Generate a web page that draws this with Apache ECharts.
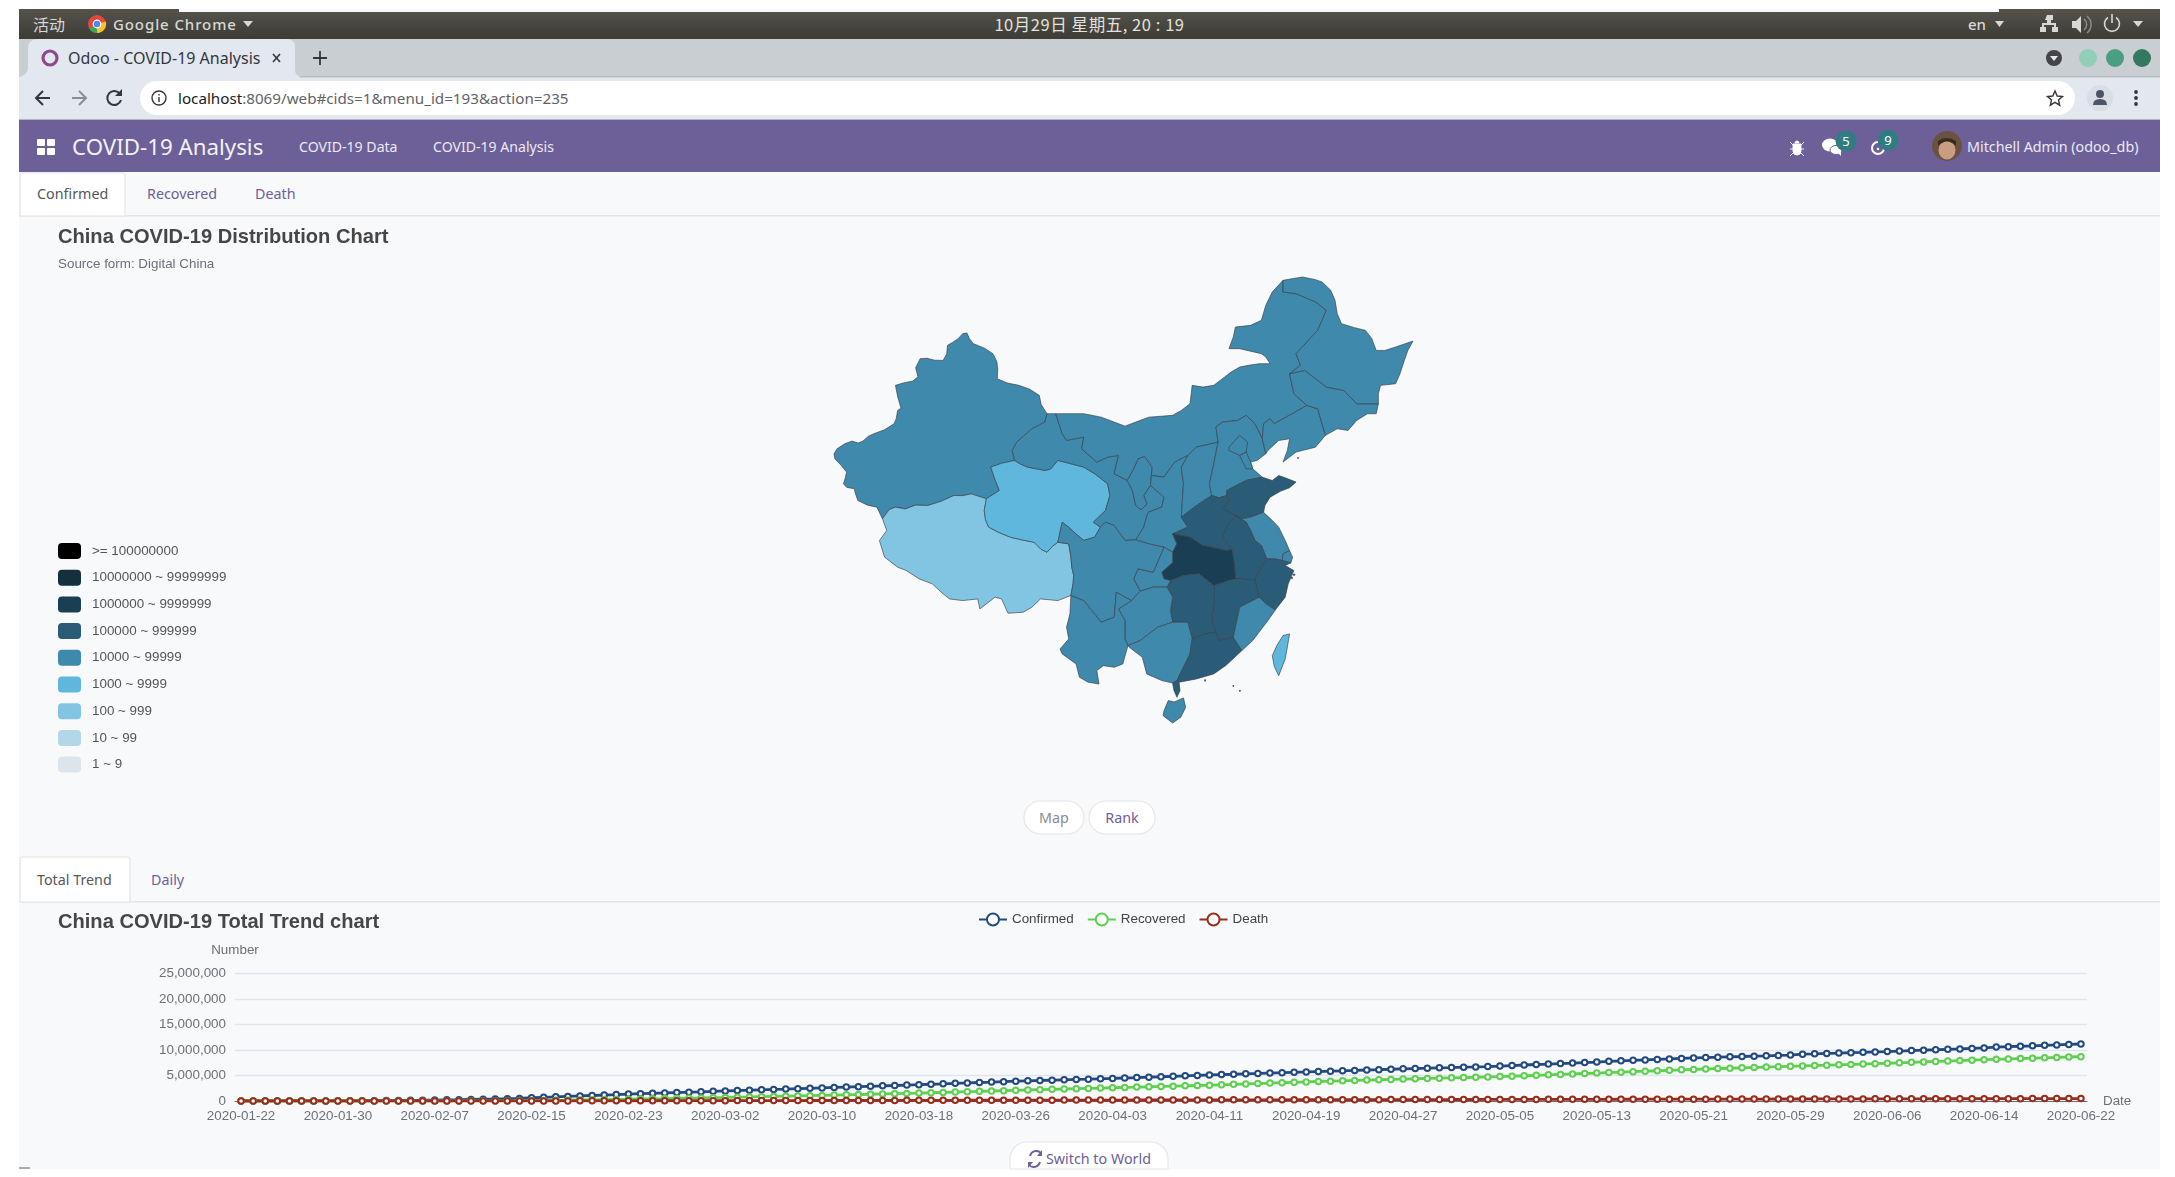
<!DOCTYPE html>
<html>
<head>
<meta charset="utf-8">
<title>COVID-19 Analysis</title>
<script src="https://cdn.jsdelivr.net/npm/echarts@6/dist/echarts.min.js"></script>
<style>
html, body { margin: 0; padding: 0; background: #fff; overflow: hidden; }
#shell { position: absolute; left: 0; top: 0; }
#chart { position: absolute; left: 0; top: 0; width: 2175px; height: 1177px; }
text { font-family: "Noto Sans", sans-serif; dominant-baseline: central; }
</style>
</head>
<body>
<svg id="shell" width="2175" height="1177" xmlns="http://www.w3.org/2000/svg">
  <defs>
    <linearGradient id="topbar" x1="0" y1="0" x2="0" y2="1">
      <stop offset="0" stop-color="#55534c"/><stop offset="1" stop-color="#3c3b36"/>
    </linearGradient>
  </defs>
  <rect x="19" y="9" width="2141" height="1160" fill="#f8f9fb"/>

  <!-- desktop bar -->
  <path d="M19 9H179V12H1999V9H2160V39H19Z" fill="url(#topbar)"/>
  <text x="33" y="24" font-size="16" fill="#d8d8d4" style="font-family:'Noto Sans CJK SC'">活动</text>
  <circle cx="97" cy="24" r="9" fill="#e8453c"/>
  <path d="M97 24L89.2 28.5A9 9 0 0 0 97 33Z" fill="#3aa757"/>
  <path d="M97 24L97 33A9 9 0 0 0 105.8 21.5Z" fill="#fbc02d"/>
  <circle cx="97" cy="24" r="4.4" fill="#fff"/><circle cx="97" cy="24" r="3.2" fill="#4a8af0"/>
  <text x="113" y="24" font-size="15" font-weight="500" letter-spacing=".9" fill="#d8d8d4">Google Chrome</text>
  <path d="M243 21h10l-5 6Z" fill="#d8d8d4"/>
  <text x="1089.500" y="24" font-size="16.500" letter-spacing=".55" text-anchor="middle" fill="#e2e2de" style="font-family:'Noto Sans CJK SC'">10月29日 星期五, 20 : 19</text>
  <text x="1968" y="24" font-size="15" font-weight="500" fill="#d8d8d4">en</text>
  <path d="M1995 21h9l-4.500 6Z" fill="#d8d8d4"/>
  <path d="M2047 15h6v5h-2v3h5v4h2v5h-6v-5h2v-2h-10v2h2v5h-6v-5h2v-4h5v-3h-2z" fill="#d8d8d4"/>
  <path d="M2072 21h4l5-5v17l-5-5h-4Z" fill="#d8d8d4"/>
  <path d="M2084 19a7 7 0 0 1 0 11M2087 16a11 11 0 0 1 0 17" fill="none" stroke="#8e8e88" stroke-width="1.500"/>
  <path d="M2116 17.500a7.500 7.500 0 1 1-8 0" fill="none" stroke="#d8d8d4" stroke-width="1.600"/>
  <path d="M2112 14v9" stroke="#d8d8d4" stroke-width="1.600"/>
  <path d="M2133 21h10l-5 6Z" fill="#d8d8d4"/>

  <!-- browser tab strip -->
  <rect x="19" y="39" width="2141" height="38" fill="#c9ced2"/>
  <path d="M19 77H300Q295 75 295 70V47Q295 39 286 39H38Q28 39 28 49V68Q28 75 19 77Z" fill="#e3e8f0"/>
  <circle cx="50" cy="58" r="7" fill="none" stroke="#8e4a86" stroke-width="3.200"/>
  <text x="68" y="57.500" font-size="16" fill="#33363a">Odoo - COVID-19 Analysis</text>
  <path d="M273 54l7 8M280 54l-7 8" stroke="#33363a" stroke-width="1.600"/>
  <path d="M320 51v14M313 58h14" stroke="#33363a" stroke-width="1.800"/>
  <circle cx="2054" cy="58" r="8" fill="#45444a"/><path d="M2050 56h8l-4 5Z" fill="#e3e8f0"/>
  <circle cx="2088" cy="58" r="9" fill="#92cdb8"/>
  <circle cx="2115" cy="58" r="9" fill="#4a9e82"/>
  <circle cx="2142" cy="58" r="9" fill="#33785f"/>

  <!-- toolbar -->
  <rect x="19" y="77" width="2141" height="42" fill="#e3e8f0"/>
  <rect x="300" y="76" width="1860" height="1.500" fill="#b9bdc2"/>
  <rect x="140" y="81" width="1935" height="34" rx="17" fill="#fff"/>
  <rect x="19" y="119" width="2141" height="1.500" fill="#b3b7bc"/>
  <path d="M50 98H37M43 91l-7 7 7 7" fill="none" stroke="#33363a" stroke-width="2"/>
  <path d="M72 98h13M79 91l7 7-7 7" fill="none" stroke="#8a8d91" stroke-width="2"/>
  <path d="M120 94a7 7 0 1 0 1 6" fill="none" stroke="#33363a" stroke-width="2"/><path d="M122 89v7h-7Z" fill="#33363a"/>
  <circle cx="159" cy="98" r="7" fill="none" stroke="#33363a" stroke-width="1.400"/>
  <path d="M159 97v5M159 94v1.500" stroke="#33363a" stroke-width="1.400"/>
  <text x="178" y="97.500" font-size="15.200" fill="#202124">localhost<tspan fill="#5f6368">:8069/web#cids=1&amp;menu_id=193&amp;action=235</tspan></text>
  <path d="M2055 91l2.200 5 5.300.5-4 3.500 1.200 5.200-4.700-2.800-4.700 2.800 1.200-5.200-4-3.500 5.300-.5Z" fill="none" stroke="#33363a" stroke-width="1.400"/>
  <circle cx="2100" cy="98" r="13" fill="#d9dde4"/>
  <circle cx="2100" cy="94" r="4" fill="#4a5568"/><path d="M2093 105q0-6 7-6t7 6Z" fill="#4a5568"/>
  <circle cx="2136" cy="92" r="1.900" fill="#33363a"/><circle cx="2136" cy="98" r="1.900" fill="#33363a"/><circle cx="2136" cy="104" r="1.900" fill="#33363a"/>

  <!-- odoo navbar -->
  <rect x="19" y="120" width="2141" height="52" fill="#6d6098"/>
  <rect x="37" y="139" width="8" height="7" rx="1" fill="#fff"/><rect x="47" y="139" width="8" height="7" rx="1" fill="#fff"/>
  <rect x="37" y="148" width="8" height="7" rx="1" fill="#fff"/><rect x="47" y="148" width="8" height="7" rx="1" fill="#fff"/>
  <text x="72" y="146" font-size="22.300" fill="#f3f1f7">COVID-19 Analysis</text>
  <text x="299" y="146" font-size="14.100" fill="#ece9f3">COVID-19 Data</text>
  <text x="433" y="146" font-size="14.100" fill="#ece9f3">COVID-19 Analysis</text>
  <path d="M1793 144h8v7q0 4-4 4t-4-4ZM1795 143a2 2 0 0 1 4 0ZM1790 142l3 3M1804 142l-3 3M1790 149h3M1804 149h-3M1790 156l3-3M1804 156l-3-3" fill="#fff" stroke="#fff" stroke-width=".9"/>
  <ellipse cx="1830" cy="145" rx="8" ry="6.500" fill="#fff"/><ellipse cx="1836" cy="150" rx="6" ry="4.500" fill="#fff" stroke="#6d6098"/><path d="M1838 153l3 3v-4Z" fill="#fff"/>
  <circle cx="1846" cy="141" r="10.500" fill="#2f7d82"/><text x="1846" y="140.500" font-size="13" text-anchor="middle" fill="#fff">5</text>
  <circle cx="1878" cy="148" r="6" fill="none" stroke="#fff" stroke-width="2"/><circle cx="1878" cy="149" r="1.200" fill="#fff"/>
  <circle cx="1888" cy="140" r="10.500" fill="#2f7d82"/><text x="1888" y="139.500" font-size="13" text-anchor="middle" fill="#fff">9</text>
  <ellipse cx="1947" cy="146" rx="15" ry="15" fill="#6b5240"/><ellipse cx="1947" cy="150" rx="8.500" ry="9.500" fill="#c79f80"/><path d="M1938 146q9-9 18 0v-5q-9-6-18 0Z" fill="#3a2a22"/>
  <text x="1967" y="146" font-size="14.300" fill="#ece9f3">Mitchell Admin (odoo_db)</text>

  <!-- first tab row -->
  <rect x="19" y="215" width="2141" height="1.500" fill="#e2e5ea"/>
  <path d="M20 216V176q0-3 3-3H122q3 0 3 3V216Z" fill="#fff" stroke="#e2e5ea" stroke-width="1.200"/>
  <text x="37" y="193" font-size="14.300" fill="#55575a">Confirmed</text>
  <text x="147" y="193" font-size="14.300" fill="#6d6098">Recovered</text>
  <text x="255" y="193" font-size="14.300" fill="#6d6098">Death</text>

  <!-- map / rank buttons -->
  <rect x="1024" y="801" width="60" height="33" rx="16.500" fill="#fff" stroke="#e4e6ea" stroke-width="1.200"/>
  <rect x="1089" y="801" width="66" height="33" rx="16.500" fill="#fff" stroke="#e4e6ea" stroke-width="1.200"/>
  <text x="1054" y="817.500" font-size="14.300" text-anchor="middle" fill="#8a8c90">Map</text>
  <text x="1122" y="817.500" font-size="14.300" text-anchor="middle" fill="#6d6098">Rank</text>

  <!-- second tab row -->
  <rect x="19" y="901" width="2141" height="1.500" fill="#e2e5ea"/>
  <path d="M20 902V860q0-3 3-3H127q3 0 3 3V902Z" fill="#fff" stroke="#e2e5ea" stroke-width="1.200"/>
  <text x="37" y="879" font-size="14.300" fill="#55575a">Total Trend</text>
  <text x="151" y="879" font-size="14.300" fill="#6d6098">Daily</text>

  <!-- switch button, cut by the bottom of the shot -->
  <path d="M1010 1169V1159a17 17 0 0 1 17-17H1151a17 17 0 0 1 17 17V1169Z" fill="#fff" stroke="#e4e6ea" stroke-width="1.200"/>
  <path d="M1041 1153a6.500 6.500 0 0 0-11 3M1029 1165a6.500 6.500 0 0 0 11-3" fill="none" stroke="#6d6098" stroke-width="1.800"/>
  <path d="M1042 1150v6h-5ZM1028 1168v-6h5Z" fill="#6d6098"/>
  <text x="1046" y="1158.500" font-size="14.300" fill="#6d6098">Switch to World</text>
  <rect x="19" y="1167" width="11" height="2" fill="#a9abae"/>
</svg>
<div id="chart"></div>

<script>
// province values for the map
let provinceNames = ['Xinjiang','Tibet','Qinghai','Gansu','Ningxia','Inner Mongolia','Shaanxi','Shanxi','Hebei','Liaoning','Jilin','Heilongjiang','Shandong','Henan','Jiangsu','Anhui','Shanghai','Zhejiang','Hubei','Jiangxi','Hunan','Chongqing','Sichuan','Guizhou','Yunnan','Guangxi','Guangdong','Fujian','Beijing','Tianjin','Taiwan','Hainan']
let provinceValues = [18000,400,3500,24000,15000,35000,62000,45000,81000,40000,28000,55000,148000,325000,86000,290000,35000,310000,5800000,240000,265000,75000,92000,30000,36000,66000,380000,64000,52000,32000,9000,28000]

// legend of the map
let pieceLabels = ['1 ~ 9','10 ~ 99','100 ~ 999','1000 ~ 9999','10000 ~ 99999','100000 ~ 999999','1000000 ~ 9999999','10000000 ~ 99999999','>= 100000000']
let pieceMins = [1,10,100,1000,10000,100000,1000000,10000000,100000000]
let pieceColors = ['#dce5ec','#b3d7e9','#82c5e3','#5fb7de','#3f89ad','#2a5c78','#1a3f54','#142f3e','#000000']

// trend chart, values in thousands
let confirmedK = [
    1,1,2,3,5,8,12,18,26,36,48,62,80,100,124,152,185,
    222,262,306,352,402,454,510,640,
    725,812,900,988,1082,1170,1258,1350,
    1432,1506,1578,1656,1731,1808,1892,1970,
    2046,2118,2196,2271,2344,2422,2494,2570,
    2652,2728,2806,2884,2966,3038,3122,3200,
    3286,3368,3456,3538,3626,3708,3796,3880,
    3952,4018,4092,4158,4226,4288,4356,4420,
    4506,4588,4676,4758,4846,4928,5016,5100,
    5176,5248,5326,5398,5476,5548,5626,5700,
    5776,5848,5926,5998,6076,6148,6226,6300,
    6366,6428,6496,6558,6626,6688,6756,6840,
    6956,7058,7156,7248,7346,7438,7536,7630,
    7776,7868,7966,8058,8156,8248,8352,8450,
    8522,8588,8662,8728,8796,8858,8932,9000,
    9176,9248,9326,9398,9476,9548,9626,9700,
    9792,9878,9966,10048,10136,10218,10312,10400,
    10566,10648,10736,10818,10912,10998,11092,11180
]
let recoveredK = [
    0,0,0,0,0,0,0,1,1,2,3,4,6,8,10,13,16,
    20,24,29,34,39,45,52,60,
    92,128,162,198,236,274,312,350,
    392,436,478,522,566,610,656,700,
    750,798,850,900,950,1000,1050,1100,
    1155,1212,1268,1325,1380,1436,1494,1550,
    1618,1686,1755,1825,1892,1962,2030,2100,
    2162,2225,2288,2350,2412,2475,2538,2600,
    2660,2722,2785,2850,2912,2975,3038,3100,
    3180,3262,3342,3425,3505,3588,3668,3750,
    3820,3888,3958,4025,4095,4162,4232,4300,
    4360,4420,4480,4540,4600,4660,4720,4780,
    4868,4955,5042,5130,5218,5305,5392,5480,
    5570,5660,5750,5840,5930,6020,6110,6200,
    6275,6350,6425,6500,6575,6650,6725,6800,
    6875,6950,7025,7100,7175,7250,7325,7400,
    7488,7575,7662,7750,7838,7925,8012,8100,
    8175,8250,8325,8400,8475,8550,8625,8700
]
let deathK = [
    0,0,0,0,0,0,0,0,0,1,1,1,2,2,2,3,3,
    4,4,5,6,7,8,9,12,
    15,19,23,26,30,34,37,41,
    45,48,52,56,59,63,67,70,
    74,78,81,85,89,92,96,100,
    103,107,111,114,118,122,125,129,
    133,136,140,144,147,151,155,158,
    162,166,169,173,177,180,184,188,
    191,195,199,202,206,210,213,217,
    221,224,228,232,235,239,243,246,
    250,254,257,261,265,268,272,276,
    279,283,287,290,294,298,301,305,
    309,312,316,320,323,327,331,334,
    338,342,345,349,353,356,360,364,
    367,371,375,378,382,386,389,393,
    397,400,404,408,411,415,419,422,
    426,430,433,437,441,444,448,452,
    455,459,463,466,470,474,477,480
]
let trendNames = ['Confirmed','Recovered','Death']
let trendColors = ['#234a80','#5ed04f','#9a2c1c']

let trendDates = []
for (let t = Date.UTC(2020, 0, 22); t <= Date.UTC(2020, 5, 22); t += 86400000) {
    trendDates.push(new Date(t).toISOString().slice(0, 10))
}

// province borders in lon/lat, shared so that neighbours meet
let borders = {
    xjNorth: [[78.78,34.47],[78.19,35.39],[77.2,35.55],[76.17,35.92],[75.9,36.5],[75.8,36.84],[75,36.95],[74.65,37.24],[74.85,37.7],[74.98,38.16],[74.4,38.7],[73.74,39.21],[73.65,39.6],[73.97,40],[74.8,40.4],[75.57,40.61],[76.2,40.45],[76.72,40.61],[77.3,41],[77.87,41.19],[79,41.5],[80.02,41.98],[80.25,42.4],[80.39,43.03],[80.75,43.2],[80.4,44.1],[80.16,45.01],[81,45.2],[82,45.35],[82.55,45.7],[82.3,46.4],[82.78,47.12],[83.5,47.15],[84.3,47],[85.21,46.98],[85.6,47.5],[85.67,48.17],[86.2,48.4],[86.81,48.7],[87.3,49.1],[87.73,49.15],[88,48.7],[88.42,48.3],[89.6,47.95],[90.49,47.51],[90.9,46.9],[91,46.3],[90.95,45.54],[92,45.2],[93.24,45.01],[94.4,44.7],[95.4,44.22],[95.6,43.5],[96.22,42.77]],
    xjXz: [[78.78,34.47],[79.5,35.2],[80.16,35.39],[81.2,35.25],[82.3,35.55],[83.6,35.52],[85,35.85],[86.36,36.31],[87.3,36.3],[88.19,36.44],[89.8,36.05]],
    xjQh: [[89.8,36.05],[91.17,36.71],[90.7,37.6],[90.26,38.55],[91.4,38.85],[92.78,39.08]],
    xzQh: [[89.8,36.05],[89.57,35.13],[89.7,34.4],[90.03,33.81],[91.1,33.4],[92.32,33.02],[93.6,32.8],[94.85,32.62],[95.6,32.05],[96.22,31.83],[96.8,32.3],[97.37,32.62]],
    xzSc: [[97.37,32.62],[98.52,32.49],[98.75,31.5],[98.84,30.65],[99.05,30],[98.98,29.33],[98.75,28.41]],
    xzSouth: [[98.75,28.41],[97.37,28.01],[95.53,28.14],[94.62,27.49],[93.7,27.09],[92.09,27.01],[91.4,28.14],[90.72,28.28],[89.11,27.35],[88.88,28.14],[87.27,28.01],[85.9,28.14],[85.21,28.54],[84.06,29.33],[82.68,29.72],[81.31,30.38],[80.39,30.65],[79.01,31.44],[78.46,32.75],[79.24,33.55],[78.78,34.47]],
    qhSc: [[97.37,32.62],[97.83,34.2],[98.52,33.81],[99.4,33.2],[100.12,32.76],[101.27,33.02],[101.87,33.81]],
    gsQh: [[101.87,33.81],[101.13,34.2],[102.42,35.13],[102.88,36.31],[102.65,37.24],[101.27,38.03],[100.12,38.55],[98.75,38.82],[97.37,39.08],[96.6,38.4],[95.99,38.29],[94.16,38.55],[93.4,38.8],[92.78,39.08]],
    xjGs: [[92.78,39.08],[92.55,39.87],[93.01,40.53],[94.62,41.58],[95.99,42.11],[96.22,42.77]],
    gsNorth: [[96.22,42.77],[97.14,42.77]],
    gsIm: [[97.14,42.77],[97.83,41.19],[98.29,40.66],[100.12,40.92],[99.89,40],[101.5,38.95],[102.65,39.34],[103.79,39.47],[103.34,38.03],[104.71,37.5]],
    nxGs: [[104.71,37.5],[105.26,36.71],[105.63,35.52],[106.18,35.18],[106.82,35.65],[106.46,36.31],[106.92,36.84],[107.19,37.1]],
    nxSn: [[107.19,37.1],[107.28,37.89]],
    nxIm: [[107.28,37.89],[107.37,38.55],[106.55,39.4],[105.86,39.21],[105.4,38.42],[104.71,37.5]],
    gsSn: [[107.19,37.1],[108.61,36.18],[108.38,35.39],[106.92,34.98],[106.46,33.81],[105.63,32.81]],
    gsSc: [[105.63,32.81],[104.48,32.76],[103.34,33.94],[102.42,34.2],[101.87,33.81]],
    scSn: [[105.63,32.81],[107.01,32.49],[108.61,32.23]],
    snCq: [[108.61,32.23],[109.53,31.83]],
    snHb: [[109.53,31.83],[109.99,32.49],[109.53,33.28]],
    snHa: [[109.53,33.28],[111.14,33.81],[110.45,34.6]],
    snSx: [[110.45,34.6],[110.68,37.24],[110.45,38.55],[111.14,39.47]],
    snIm: [[107.28,37.89],[108.61,37.76],[109.76,38.95],[111.14,39.47]],
    sxHa: [[110.45,34.6],[111.82,35.39],[113.66,36.31]],
    sxHe: [[113.66,36.31],[113.43,37.24],[113.89,38.82],[114.35,40.53]],
    sxIm: [[111.14,39.47],[112.05,40.13],[114.35,40.53]],
    heIm: [[114.35,40.53],[114.12,41.71],[114.81,42.11],[116.41,42.24],[117.33,42.64],[118.25,41.98],[119.03,40.79]],
    heLn: [[119.03,40.79],[119.4,39.6]],
    heCoast: [[119.4,39.6],[118.48,39.08],[117.79,38.95],[118.02,38.42],[119.03,37.76]],
    sdHe: [[119.03,37.76],[117.33,37.5],[115.27,36.71],[115.27,36.31]],
    heHa: [[113.66,36.31],[114.44,36.13],[115.27,36.31]],
    sdHa: [[115.27,36.31],[115.5,35.92],[114.9,35.26],[116.18,34.73]],
    sdOuter: [[119.03,37.76],[120.09,37.5],[120.77,37.89],[121.46,37.71],[122.61,37.37],[121.92,36.92],[121,36.66],[119.86,36.18],[119.31,35.52],[119.17,34.98]],
    sdJs: [[119.17,34.98],[117.79,34.6],[116.87,34.47],[116.18,34.73]],
    jsAh: [[116.18,34.73],[117.33,34.2],[117.79,33.55],[118.25,32.76],[118.94,32.36],[119.49,31.31]],
    jsOuter: [[119.17,34.98],[120.09,34.34],[120.77,33.81],[121.46,32.76],[121.92,31.96]],
    jsSh: [[121.92,31.96],[121.23,31.7],[121.14,31.17]],
    shOuter: [[121.92,31.96],[122.24,31.44],[122.06,30.99]],
    shZj: [[121.14,31.17],[122.06,30.99]],
    jsZj: [[121.14,31.17],[120.31,31.31],[119.49,31.31]],
    ahZj: [[119.49,31.31],[118.94,30.65],[118.25,29.65]],
    zjOuter: [[122.06,30.99],[121.46,30.78],[122.38,30.38],[121.78,29.33],[121.46,28.28],[120.41,27.27]],
    zjFj: [[120.41,27.27],[119.4,27.75],[118.71,28.28]],
    zjJx: [[118.25,29.65],[118.39,29.07],[118.71,28.28]],
    hbHa: [[109.53,33.28],[111.37,33.02],[112.74,32.36],[115.27,31.96],[115.82,32.04]],
    haAh: [[116.18,34.73],[115.27,33.81],[114.81,33.02],[115.82,32.04]],
    hbAh: [[115.82,32.04],[116.09,30.78],[116.18,29.72]],
    ahJx: [[116.18,29.72],[118.25,29.65]],
    hbJx: [[116.18,29.72],[115.5,29.59],[113.89,29.2]],
    hbHn: [[113.89,29.2],[112.28,30.12],[110.68,29.99],[109.3,29.59]],
    hnCq: [[109.3,29.59],[108.93,29.07]],
    cqGz: [[108.93,29.07],[107.47,29.07],[106.09,28.75]],
    scCq: [[108.61,32.23],[107.47,30.25],[105.86,30.52],[105.4,29.72],[106.09,28.75]],
    hbCq: [[109.53,31.83],[109.53,31.04],[108.38,30.25],[108.61,29.72],[109.3,29.59]],
    scGz: [[106.09,28.75],[105.17,28.01]],
    scYn: [[105.17,28.01],[103.56,28.67],[103.34,26.7],[101.96,26.3],[100.12,28.01],[98.75,28.41]],
    ynGz: [[105.17,28.01],[103.79,27.35],[104.48,26.43],[104.48,24.98],[104.8,24.46]],
    gzGx: [[104.8,24.46],[106.09,24.85],[107.92,25.9],[109.53,26.3]],
    gzHn: [[108.93,29.07],[109.53,28.28],[109.3,27.22],[109.53,26.3]],
    hnGx: [[109.53,26.3],[111.14,26.3],[111.6,24.98]],
    hnGd: [[111.6,24.98],[112.97,25.38],[114.12,25.51]],
    hnJx: [[113.89,29.2],[113.89,27.75],[113.66,26.43],[114.12,25.51]],
    jxGd: [[114.12,25.51],[114.44,24.85],[115.96,25.11]],
    jxFj: [[118.71,28.28],[116.64,27.49],[115.96,25.11]],
    fjGd: [[115.96,25.11],[116.87,24.06]],
    fjOuter: [[120.41,27.27],[119.63,26.43],[118.02,24.85],[116.87,24.06]],
    gdGx: [[111.6,24.98],[111.37,23.8],[109.99,21.69],[109.53,21.5]],
    gdOuter: [[116.87,24.06],[115.2,22.9],[113.89,22.22],[112.05,21.82],[110.22,21.56],[110.31,20.9],[109.99,20.37],[109.67,20.9],[109.53,21.5]],
    gxOuter: [[109.53,21.5],[108.38,21.69],[106.78,22.22],[106.32,23.53],[104.94,24.32],[104.8,24.46]],
    ynOuter: [[104.8,24.46],[104.25,23],[103.34,22.74],[102.19,22.87],[101.5,22.48],[101.73,21.42],[100.58,21.56],[99.66,21.95],[99.3,23],[97.83,23.8],[97.6,24.19],[98.52,24.98],[98.29,25.9],[98.65,26.96],[98.75,28.41]],
    imNorth: [[97.14,42.77],[100.12,42.77],[101.96,42.5],[103.34,42.11],[104.48,41.79],[105.63,42.11],[107.01,42.5],[109.53,42.64],[110.45,43.03],[111.37,43.56],[111.5,44.35],[111.6,45.01],[112.74,44.88],[113.89,45.01],[114.81,45.54],[115.73,46.06],[116.64,46.46],[117.56,46.59],[118.71,46.72],[119.86,46.72],[119.4,47.25],[118.94,47.51],[116.64,47.91],[115.5,47.91],[115.96,48.83],[116.18,49.62],[117.79,49.75],[118.94,50.15],[119.4,51.33],[120.09,52.39],[121.23,53.31]],
    imHlj: [[121.23,53.31],[121.23,52.39],[122.61,52.25],[124.67,51.6],[125.82,50.94],[124.9,49.36],[122.61,47.51],[123.07,46.59],[121.92,45.93]],
    hljOuter: [[121.23,53.31],[123.3,53.57],[124.67,53.36],[125.36,53.18],[126.28,52.52],[126.74,51.73],[126.97,50.67],[127.43,49.88],[128.8,49.57],[129.95,49.36],[130.64,48.7],[131.1,47.77],[132.02,47.77],[133.16,48.04],[135,48.51],[134.45,47.77],[134.08,46.98],[133.62,45.93],[133.16,45.14],[131.56,45.01],[131.33,44.35],[131.33,43.56]],
    hljJl: [[121.92,45.93],[123.53,46.19],[125.82,44.88],[127.66,44.61],[129.03,43.56],[131.33,43.56]],
    imJl: [[121.92,45.93],[122.38,44.35],[123.76,43.43]],
    imLn: [[123.76,43.43],[120.31,41.98],[119.86,42.37],[119.17,41.98],[119.03,40.79]],
    jlLn: [[123.76,43.43],[124.9,43.16],[125.73,41.06]],
    jlOuter: [[131.33,43.56],[131.1,42.77],[130.18,42.77],[129.03,42.24],[128.12,41.45],[126.97,41.58],[125.73,41.06]],
    lnOuter: [[125.73,41.06],[124.67,40.13],[122.61,39.74],[121.23,38.95],[121.69,39.87],[121.92,40.79],[120.77,40.66],[119.63,39.87],[119.4,39.6]]
}

let provinceRings = {
    'Xinjiang': ['xjNorth','-xjGs','-xjQh','-xjXz'],
    'Tibet': ['xjXz','xzQh','xzSc','xzSouth'],
    'Qinghai': ['xjQh','-gsQh','-qhSc','-xzQh'],
    'Gansu': ['xjGs','gsNorth','gsIm','nxGs','gsSn','gsSc','gsQh'],
    'Ningxia': ['nxGs','nxSn','nxIm'],
    'Inner Mongolia': ['imNorth','imHlj','imJl','imLn','-heIm','-sxIm','-snIm','nxIm','-gsIm'],
    'Shaanxi': ['snIm','-snSx','-snHa','-snHb','-snCq','-scSn','-gsSn','nxSn'],
    'Shanxi': ['snSx','sxIm','-sxHe','-sxHa'],
    'Hebei': ['sxHe','heIm','heLn','heCoast','sdHe','-heHa'],
    'Liaoning': ['-imLn','jlLn','lnOuter','-heLn'],
    'Jilin': ['-imJl','hljJl','jlOuter','-jlLn'],
    'Heilongjiang': ['hljOuter','-hljJl','-imHlj'],
    'Shandong': ['sdOuter','sdJs','-sdHa','-sdHe'],
    'Henan': ['sxHa','heHa','sdHa','haAh','-hbHa','snHa'],
    'Jiangsu': ['sdJs','jsAh','-jsZj','-jsSh','-jsOuter'],
    'Anhui': ['jsAh','ahZj','-ahJx','-hbAh','-haAh'],
    'Shanghai': ['jsSh','shZj','-shOuter'],
    'Zhejiang': ['jsZj','ahZj','zjJx','-zjFj','-zjOuter','-shZj'],
    'Hubei': ['hbHa','hbAh','hbJx','hbHn','-hbCq','snHb'],
    'Jiangxi': ['ahJx','zjJx','jxFj','-jxGd','-hnJx','-hbJx'],
    'Hunan': ['-hbHn','hnJx','-hnGd','-hnGx','-gzHn','-hnCq'],
    'Chongqing': ['snCq','hbCq','hnCq','cqGz','-scCq'],
    'Sichuan': ['qhSc','-gsSc','scSn','scCq','scGz','scYn','-xzSc'],
    'Guizhou': ['-cqGz','gzHn','-gzGx','-ynGz','-scGz'],
    'Yunnan': ['-scYn','ynGz','ynOuter'],
    'Guangxi': ['gzGx','hnGx','gdGx','gxOuter'],
    'Guangdong': ['hnGd','jxGd','fjGd','gdOuter','-gdGx'],
    'Fujian': ['zjFj','jxFj','fjGd','-fjOuter']
}

let extraShapes = {
    'Beijing': [[115.5,40.13],[116.64,41.06],[117.47,40.53],[117.33,39.74],[116.64,39.47],[115.5,39.87]],
    'Tianjin': [[117.33,39.74],[117.79,38.95],[118.02,38.42],[117.33,38.42],[116.87,39.08],[116.64,39.47]],
    'Taiwan': [[121.92,25.38],[121.23,25.25],[120.6,24.5],[120.09,23.66],[120.3,22.8],[120.77,22.08],[121.2,22.9],[121.46,23.4],[121.7,24.4]],
    'Hainan': [[110.68,20.32],[109.7,20],[109.07,20.11],[108.62,19.3],[108.52,18.92],[109.53,18.34],[110.4,18.8],[110.91,19.58]]
}

// small offshore islets, kept apart from the main rings
let islets = {
    'Guangdong': [[[115.9,21.3],[116.02,21.3],[115.96,21.2]],[[116.6,20.92],[116.72,20.92],[116.66,20.8]],[[112.9,21.75],[113.05,21.75],[112.97,21.62]]],
    'Zhejiang': [[[122.3,30.1],[122.5,30.1],[122.4,29.95]],[[122.1,29.85],[122.25,29.85],[122.18,29.7]]],
    'Liaoning': [[[122.75,39.3],[122.9,39.3],[122.82,39.2]]]
}

function buildRing(arcNames) {
    let ring = []
    arcNames.forEach(function (name) {
        let arc = name[0] == '-' ? borders[name.slice(1)].slice().reverse() : borders[name]
        ring = ring.concat(arc)
    })
    ring.push(ring[0])
    return ring
}

let features = provinceNames.map(function (name) {
    let ring = provinceRings[name] ? buildRing(provinceRings[name]) : extraShapes[name].concat([extraShapes[name][0]])
    let polygons = [[ring]]
    ;(islets[name] || []).forEach(function (speck) {
        polygons.push([speck.concat([speck[0]])])
    })
    return { type: 'Feature', properties: { name: name }, geometry: { type: 'MultiPolygon', coordinates: polygons } }
})
echarts.registerMap('provinces', { type: 'FeatureCollection', features: features })

let chartFont = '"Liberation Sans", Arial, sans-serif'
let tickFont = { color: '#6e7079', fontSize: 13.4, fontFamily: chartFont }

let myChart = echarts.init(document.getElementById('chart'))

let option = {
    animation: false,
    title: [
        {
            text: 'China COVID-19 Distribution Chart',
            subtext: 'Source form: Digital China',
            left: 53, top: 222, itemGap: 11,
            textStyle: { color: '#464646', fontSize: 20.1, fontWeight: 'bold', fontFamily: chartFont },
            subtextStyle: { color: '#6e7079', fontSize: 13.4, fontFamily: chartFont }
        },
        {
            text: 'China COVID-19 Total Trend chart',
            left: 53, top: 907.5,
            textStyle: { color: '#464646', fontSize: 20.1, fontWeight: 'bold', fontFamily: chartFont }
        }
    ],
    visualMap: {
        type: 'piecewise',
        seriesIndex: 0,
        left: 58, top: 543,
        padding: 0,
        itemWidth: 23, itemHeight: 16, itemGap: 10.7, textGap: 11,
        itemSymbol: 'roundRect',
        textStyle: { color: '#555', fontSize: 13.4, fontFamily: chartFont },
        pieces: pieceLabels.map(function (label, i) {
            let piece = { min: pieceMins[i], label: label, color: pieceColors[i] }
            if (i < pieceMins.length - 1) piece.max = pieceMins[i + 1] - 1
            return piece
        })
    },
    legend: {
        data: trendNames,
        left: 978, top: 912.5,
        padding: 0,
        itemWidth: 28, itemHeight: 15, itemGap: 13,
        textStyle: { color: '#444', fontSize: 13.4, fontFamily: chartFont }
    },
    grid: { left: 235, right: 88, top: 973.5, bottom: 76 },
    xAxis: {
        type: 'category',
        data: trendDates,
        name: 'Date',
        nameGap: 16,
        nameTextStyle: tickFont,
        axisLine: { lineStyle: { color: '#6e7079', width: 1.2 } },
        axisTick: { interval: 7, length: 6 },
        axisLabel: Object.assign({ interval: 7, margin: 9 }, tickFont)
    },
    yAxis: {
        type: 'value',
        name: 'Number',
        nameGap: 17,
        nameTextStyle: tickFont,
        min: 0, max: 25000000, interval: 5000000,
        axisLabel: Object.assign({ margin: 9 }, tickFont),
        splitLine: { lineStyle: { color: '#e0e6f1', width: 1.4 } }
    },
    series: [
        {
            type: 'map',
            map: 'provinces',
            left: 834, top: 277, width: 579, height: 446,
            aspectScale: 0.75,
            roam: false,
            silent: true,
            showLegendSymbol: false,
            label: { show: false },
            itemStyle: { borderColor: 'rgba(55,62,70,0.72)', borderWidth: 0.9 },
            data: provinceNames.map(function (name, i) {
                return { name: name, value: provinceValues[i] }
            })
        }
    ].concat([confirmedK, recoveredK, deathK].map(function (values, i) {
        return {
            name: trendNames[i],
            type: 'line',
            symbol: 'emptyCircle',
            symbolSize: 5.5,
            showAllSymbol: true,
            color: trendColors[i],
            lineStyle: { width: 2.8 },
            itemStyle: { borderWidth: 2.6 },
            data: values.map(function (v) { return v * 1000 })
        }
    }))
}

myChart.setOption(option)
</script>
</body>
</html>
